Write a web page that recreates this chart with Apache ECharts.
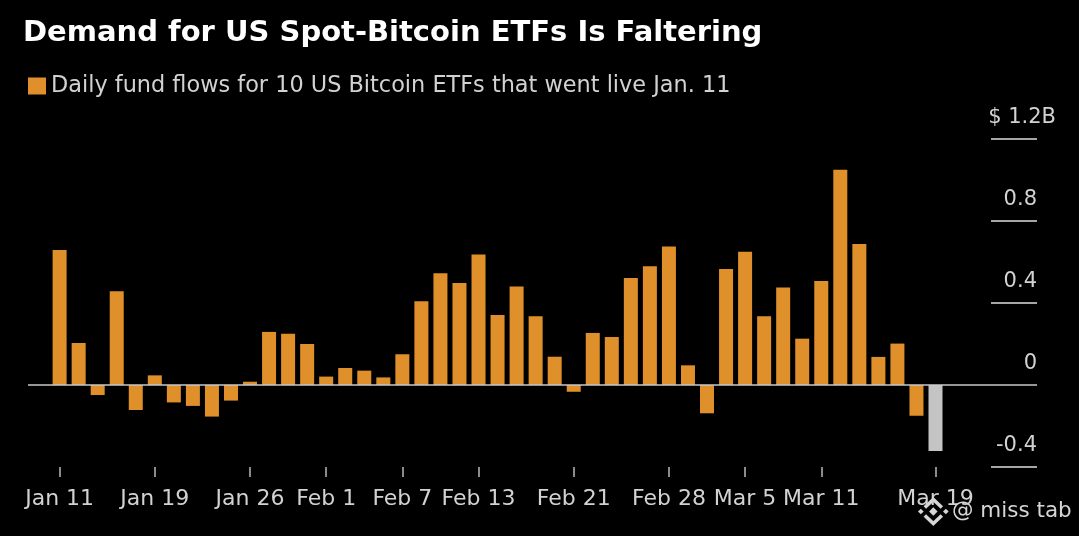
<!DOCTYPE html>
<html>
<head>
<meta charset="utf-8">
<style>html,body{margin:0;padding:0;background:#000}#c{width:1079px;height:536px}</style>
<script src="https://cdn.jsdelivr.net/npm/echarts@6/dist/echarts.min.js"></script>
</head>
<body>
<div id="c"></div>
<script>
const categories = ["Jan 11","Jan 12","Jan 16","Jan 17","Jan 18","Jan 19","Jan 22","Jan 23","Jan 24","Jan 25","Jan 26","Jan 29","Jan 30","Jan 31","Feb 1","Feb 2","Feb 5","Feb 6","Feb 7","Feb 8","Feb 9","Feb 12","Feb 13","Feb 14","Feb 15","Feb 16","Feb 20","Feb 21","Feb 22","Feb 23","Feb 26","Feb 27","Feb 28","Feb 29","Mar 1","Mar 4","Mar 5","Mar 6","Mar 7","Mar 8","Mar 11","Mar 12","Mar 13","Mar 14","Mar 15","Mar 18","Mar 19"];
const flows = [0.659,0.205,-0.049,0.457,-0.122,0.047,-0.085,-0.102,-0.154,-0.076,0.016,0.259,0.250,0.200,0.041,0.083,0.070,0.037,0.150,0.408,0.545,0.498,0.636,0.341,0.480,0.335,0.138,-0.033,0.254,0.234,0.522,0.579,0.676,0.096,-0.138,0.566,0.650,0.335,0.476,0.226,0.507,1.05,0.688,0.137,0.202,-0.150,-0.322];
const tickLabels = ["Jan 11","Jan 19","Jan 26","Feb 1","Feb 7","Feb 13","Feb 21","Feb 28","Mar 5","Mar 11","Mar 19"];
const yTicks = [-0.4,0,0.4,0.8,1.2];
const seriesName = "Daily fund flows for 10 US Bitcoin ETFs that went live Jan. 11";
const titleText = "Demand for US Spot-Bitcoin ETFs Is Faltering";
const provisionalDate = "Mar 19";
const watermark = "@ miss tab";

const ORANGE = "#DF902B", GREY = "#C4C4C4", TEXT = "#D2D2D2";
const FONT = "'DejaVu Sans'";
const MARK = '#d6d6d6';
const tickIdx = tickLabels.map(t => categories.indexOf(t));
const chart = echarts.init(document.getElementById('c'), null, {renderer:'canvas'});
chart.setOption({
  animation:false,
  backgroundColor:'#000',
  title:{text:titleText,left:23,top:19,padding:0,textStyle:{color:'#fff',fontFamily:FONT,fontWeight:'bold',fontSize:29}},
  legend:{
    left:28,top:75,padding:0,itemWidth:18,itemHeight:17,itemGap:6,icon:'rect',
    textStyle:{color:TEXT,fontFamily:FONT,fontSize:22.4},
    data:[seriesName]
  },
  grid:{left:28,right:42,top:139,bottom:69},
  xAxis:{
    type:'value',min:-1.66,max:51.33,
    splitLine:{show:false},
    axisLine:{show:false,onZero:false},
    axisTick:{show:true,length:10,customValues:tickIdx,lineStyle:{color:'#bbb',width:1.5}},
    axisLabel:{customValues:tickIdx,margin:21,color:TEXT,fontFamily:FONT,fontSize:22,
      formatter:v=>categories[v]||''}
  },
  yAxis:{
    type:'value',position:'right',min:-0.4,max:1.2,interval:0.4,
    axisLine:{show:false,onZero:false},
    splitLine:{show:false},
    axisTick:{show:true,inside:true,length:46,customValues:yTicks.filter(v=>v!==0),lineStyle:{color:'#ddd',width:1.5}},
    axisLabel:{
      inside:true,margin:-19,verticalAlign:'bottom',
      formatter:v=>{
        if(Math.abs(v-1.2)<1e-6) return '{a|$ 1.2B}';
        return '{b|'+(Math.abs(v)<1e-6?'0':String(Math.round(v*10)/10))+'}';
      },
      rich:{
        a:{color:TEXT,fontFamily:FONT,fontSize:21,padding:[0,0,11,0]},
        b:{color:TEXT,fontFamily:FONT,fontSize:21,padding:[0,19,11,0]}
      }
    }
  },
  graphic:[
    {type:'group',left:918,top:497,children:[
      {type:'polyline',shape:{points:[[6,9],[14.5,1],[23,9]]},style:{stroke:MARK,lineWidth:3.5,fill:null}},
      {type:'polyline',shape:{points:[[6,17],[14.5,25],[23,17]]},style:{stroke:MARK,lineWidth:3.5,fill:null}},
      {type:'rect',shape:{x:-3,y:-3,width:6,height:6},rotation:Math.PI/4,x:14.5,y:13,style:{fill:MARK}},
      {type:'rect',shape:{x:-2,y:-2,width:4,height:4},rotation:Math.PI/4,x:2,y:13,style:{fill:MARK}},
      {type:'rect',shape:{x:-2,y:-2,width:4,height:4},rotation:Math.PI/4,x:27,y:13,style:{fill:MARK}}
    ]},
    {type:'text',left:952,top:500,style:{text:watermark,fill:MARK,fontFamily:FONT,fontSize:21.5}}
  ],
  series:[{
    name:seriesName,type:'bar',barWidth:14,
    itemStyle:{color:ORANGE},
    data:flows.map((v,i)=>categories[i]===provisionalDate
      ?{value:[i,v],itemStyle:{color:GREY}}:{value:[i,v]}),
    markLine:{silent:true,symbol:'none',label:{show:false},animation:false,
      lineStyle:{color:'#c8c8c8',width:1.5,type:'solid'},
      data:[{yAxis:0}]}
  }]
});
</script>
</body>
</html>
